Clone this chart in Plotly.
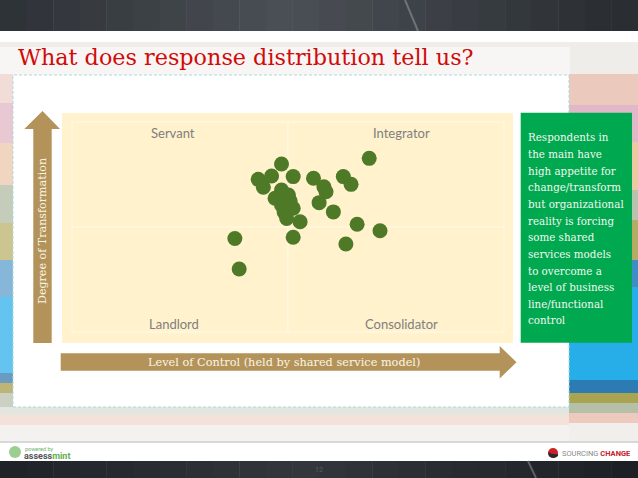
import plotly.graph_objects as go

W, H = 638, 478

# ---------------- data ----------------
control_level = [4.85, 4.31, 4.62, 4.43, 5.12, 5.59, 5.83, 5.88, 6.28, 6.46,
                 4.85, 5.01, 4.70, 4.85, 5.12, 4.97, 5.28, 5.72, 6.05, 5.12,
                 6.60, 6.34, 3.77, 3.87, 6.88, 7.13, 5.05, 4.91]
transformation = [8.00, 7.27, 7.43, 6.89, 7.40, 7.32, 6.92, 6.68, 7.40, 7.03,
                  6.76, 6.52, 6.37, 6.05, 5.89, 5.41, 5.25, 6.16, 5.72, 4.51,
                  5.13, 4.19, 4.45, 3.00, 8.27, 4.82, 6.24, 5.71]

quadrant_names = ["Servant", "Integrator", "Landlord", "Consolidator"]
quadrant_x = [2.34, 7.62, 2.36, 7.62]
quadrant_y = [9.49, 9.49, 0.37, 0.37]

title_text = "What does response distribution tell us?"
y_axis_label = "Degree of Transformation"
x_axis_label = "Level of Control (held by shared service model)"
insight_lines = ["Respondents in", "the main have", "high appetite for",
                 "change/transform", "but organizational", "reality is forcing",
                 "some shared", "services models", "to overcome a",
                 "level of business", "line/functional", "control"]

# ---------------- helpers ----------------
def px(x):
    return x / W


def py(y):
    return 1 - y / H


def rect(x0, y0, x1, y1, fill, line=None, dash=None, lw=0):
    s = dict(type="rect", xref="paper", yref="paper",
             x0=px(x0), x1=px(x1), y0=py(y1), y1=py(y0),
             fillcolor=fill, layer="below")
    if line:
        s["line"] = dict(color=line, width=lw or 1, dash=dash or "solid")
    else:
        s["line"] = dict(width=0)
    return s


def mix(c1, c2, t):
    a = [int(c1[i:i + 2], 16) for i in (1, 3, 5)]
    b = [int(c2[i:i + 2], 16) for i in (1, 3, 5)]
    return "#" + "".join("%02x" % round(a[k] + (b[k] - a[k]) * t) for k in range(3))


shapes = []

# top dark band with soft horizontal gradient
n = 24
for i in range(n):
    x0 = W * i / n
    x1 = W * (i + 1) / n + 0.5
    c = (x0 + x1) / 2
    t = max(0.0, 1 - abs(c - 290) / 320)
    shapes.append(rect(x0, 0, x1, 31, mix("#2a2e33", "#4b5056", t)))
shapes.append(dict(type="line", xref="paper", yref="paper", x0=px(405), x1=px(418),
                   y0=py(0), y1=py(31), line=dict(color="#6e7378", width=2), layer="below"))
# white strip + title band
shapes.append(rect(0, 31, W, 42, "#ffffff"))
shapes.append(rect(0, 42, W, 75, "#efedea"))
shapes.append(rect(0, 47, 570, 75, "#f7f6f4"))

# side stripes
left_stripes = [(74, 103, "#f2dcd8"), (103, 143, "#e8c8d3"), (143, 185, "#f0d6c0"),
                (185, 223, "#c6ccba"), (223, 260, "#cdc58f"), (260, 297, "#86b7d8"),
                (297, 373, "#62c4ef"), (373, 383, "#6a9cc2"), (383, 393, "#bdb577"),
                (393, 410, "#cbd0c2")]
right_stripes = [(74, 105, "#ecc9bd"), (105, 142, "#e0b8c7"), (142, 190, "#ebcaa1"),
                 (190, 220, "#b8c3af"), (220, 260, "#b3ab66"), (260, 287, "#3f8dc4"),
                 (287, 380, "#27aee8"), (380, 393, "#2d7bb3"), (393, 403, "#aaa451"),
                 (403, 413, "#b5c0a9"), (413, 423, "#edcabd")]
for y0, y1, c in left_stripes:
    shapes.append(rect(0, y0, 13, y1, c))
for y0, y1, c in right_stripes:
    shapes.append(rect(569, y0, W, y1, c))

# bands under the content box
shapes.append(rect(0, 407, 569, 415, "#e3e6df"))
shapes.append(rect(0, 415, 569, 425, "#f4e2da"))
shapes.append(rect(0, 425, W, 442, "#f3f2f0"))
shapes.append(rect(569, 423, W, 442, "#f1efec"))
shapes.append(rect(0, 441, W, 443, "#d8d8d8"))
shapes.append(rect(0, 443, W, 461, "#ffffff"))
for i in range(n):
    x0 = W * i / n
    x1 = W * (i + 1) / n + 0.5
    c = (x0 + x1) / 2
    t = max(0.0, 1 - abs(c - 300) / 330)
    shapes.append(rect(x0, 461, x1, H, mix("#1c1f23", "#33373c", t)))
shapes.append(dict(type="line", xref="paper", yref="paper", x0=px(528), x1=px(536),
                   y0=py(461), y1=py(478), line=dict(color="#5c6166", width=2), layer="below"))

# content box (white with dashed border)
shapes.append(rect(13, 75, 569, 407, "#ffffff", line="#a9dcdc", dash="3px,2px", lw=1))

# yellow quadrant panel
shapes.append(rect(62, 113, 513, 343, "#fff2cc"))
# inner light border and quadrant dividers (data coords)
grid_col = "#fffaea"
shapes.append(dict(type="rect", xref="x", yref="y", x0=0, x1=10, y0=0, y1=10,
                   line=dict(color=grid_col, width=1), layer="below"))
shapes.append(dict(type="line", xref="x", yref="y", x0=5, x1=5, y0=0, y1=10,
                   line=dict(color=grid_col, width=1.2), layer="below"))
shapes.append(dict(type="line", xref="x", yref="y", x0=0, x1=10, y0=5, y1=5,
                   line=dict(color=grid_col, width=1.2), layer="below"))

# arrows
arrow_col = "#b39359"
v_path = "M {a},{b} L {c},{b} L {c},{d} L {e},{d} L {f},{g} L {h},{d} L {i},{d} L {i},{b} Z".format(
    a=px(33.3), b=py(343), c=px(51.7), d=py(129), e=px(60), f=px(42.5), g=py(111),
    h=px(24.3), i=px(33.3))
shapes.append(dict(type="path", xref="paper", yref="paper", path=v_path,
                   fillcolor=arrow_col, line=dict(width=0), layer="below"))
h_path = "M {a},{b} L {c},{b} L {c},{d} L {e},{f} L {c},{g} L {c},{h} L {a},{h} Z".format(
    a=px(60.7), b=py(353.3), c=px(499.7), d=py(346), e=px(516.5), f=py(362.3),
    g=py(378.5), h=py(370.7))
shapes.append(dict(type="path", xref="paper", yref="paper", path=h_path,
                   fillcolor=arrow_col, line=dict(width=0), layer="below"))

# green insight box
shapes.append(rect(520.7, 112.7, 632, 342.7, "#00a850"))

# footer logo marks
shapes.append(dict(type="circle", xref="paper", yref="paper",
                   x0=px(548), x1=px(558), y0=py(458), y1=py(448),
                   fillcolor="#cf2027", line=dict(width=0), layer="below"))
shapes.append(dict(type="path", xref="paper", yref="paper",
                   path="M {},{} Q {},{} {},{} L {},{} Q {},{} {},{} Z".format(
                       px(548), py(452), px(553), py(455), px(558), py(454),
                       px(558), py(456), px(553), py(460), px(549), py(456)),
                   fillcolor="#2b2b2b", line=dict(width=0), layer="below"))
shapes.append(dict(type="circle", xref="paper", yref="paper",
                   x0=px(9), x1=px(21), y0=py(458), y1=py(446),
                   fillcolor="#9bcf8f", line=dict(width=0), layer="below"))

# ---------------- figure ----------------
fig = go.Figure()
fig.add_trace(go.Scatter(
    x=control_level, y=transformation, mode="markers",
    marker=dict(size=15, color="#4e7a27", line=dict(width=0)),
    hoverinfo="skip", showlegend=False))

ann = []
serif = "DejaVu Serif"
ann.append(dict(text=title_text, x=px(16), y=py(57), xref="paper", yref="paper",
                xanchor="left", yanchor="middle", showarrow=False,
                font=dict(family=serif, size=22.3, color="#d10a0a")))
for name, qx, qy in zip(quadrant_names, quadrant_x, quadrant_y):
    ann.append(dict(text=name, x=qx, y=qy, xref="x", yref="y", showarrow=False,
                    xanchor="center", yanchor="middle",
                    font=dict(family="Lato", size=13, color="#808080")))
ann.append(dict(text=y_axis_label, x=px(42.5), y=py(231.5), xref="paper", yref="paper",
                textangle=-90, showarrow=False, xanchor="center", yanchor="middle",
                font=dict(family=serif, size=11.1, color="#fbf5e6")))
ann.append(dict(text=x_axis_label, x=px(284), y=py(362), xref="paper", yref="paper",
                showarrow=False, xanchor="center", yanchor="middle",
                font=dict(family=serif, size=11.3, color="#fbf5e6")))
for i, line in enumerate(insight_lines):
    ann.append(dict(text=line, x=px(526), y=py(137.3 + 16.65 * i), xref="paper", yref="paper",
                    showarrow=False, xanchor="left", yanchor="middle",
                    font=dict(family=serif, size=10.3, color="#f2f8ef")))
# footer texts
ann.append(dict(text="powered by", x=px(23), y=py(449), xref="paper", yref="paper",
                showarrow=False, xanchor="left", yanchor="middle",
                font=dict(family="Roboto", size=5.5, color="#6bb36a")))
ann.append(dict(text="<b>assess</b><span style='color:#5fae4f'><b>mint</b></span>",
                x=px(22), y=py(455.5), xref="paper", yref="paper",
                showarrow=False, xanchor="left", yanchor="middle",
                font=dict(family="Roboto", size=9, color="#555555")))
ann.append(dict(text="SOURCING <span style='color:#c8202a'><b>CHANGE</b></span>",
                x=px(560), y=py(453), xref="paper", yref="paper",
                showarrow=False, xanchor="left", yanchor="middle",
                font=dict(family="Roboto", size=7.5, color="#8a8a8a")))
ann.append(dict(text="12", x=px(319), y=py(469.5), xref="paper", yref="paper",
                showarrow=False, xanchor="center", yanchor="middle",
                font=dict(family="Roboto", size=7, color="#5a5e62")))

fig.update_layout(
    width=W, height=H,
    margin=dict(l=0, r=0, t=0, b=0),
    paper_bgcolor="#ffffff",
    plot_bgcolor="rgba(0,0,0,0)",
    shapes=shapes,
    annotations=ann,
    showlegend=False,
    xaxis=dict(domain=[px(62), px(513)], range=[-10 / 43.2, 441 / 43.2],
               visible=False, fixedrange=True),
    yaxis=dict(domain=[py(343), py(113)], range=[-11 / 21, 219 / 21],
               visible=False, fixedrange=True),
)

fig.write_html("out.html", config={"displayModeBar": False},
               post_script="document.body.style.margin='0';document.body.style.overflow='hidden';")
